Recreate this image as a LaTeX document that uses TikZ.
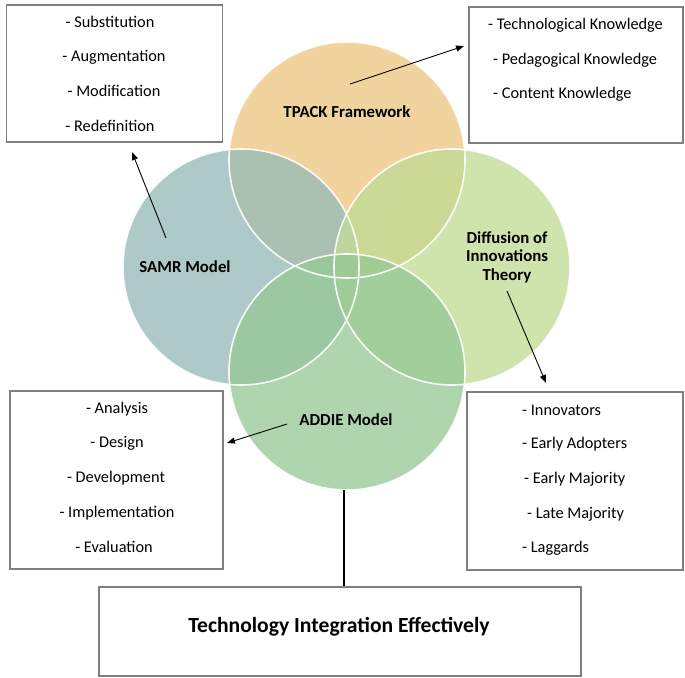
\documentclass[tikz,border=0pt]{standalone}
\usepackage{fontspec}
\setmainfont{Carlito}
\usetikzlibrary{arrows.meta}
\definecolor{ctpack}{RGB}{235,198,128}
\definecolor{csamr}{RGB}{150,186,184}
\definecolor{cdiff}{RGB}{192,219,148}
\definecolor{caddie}{RGB}{150,200,150}
\definecolor{boxgray}{RGB}{128,128,128}
\tikzset{
  venn/.style={circle, minimum size=236pt, inner sep=0pt, fill opacity=0.77},
  vennborder/.style={draw=white, line width=1.6pt, draw opacity=0.9},
  listbox/.style={draw=boxgray, line width=1.3pt},
  item/.style={font=\fontsize{16.3}{19}\selectfont, inner sep=0pt},
  vlabel/.style={font=\fontsize{16.8}{19}\selectfont\bfseries, align=center, inner sep=0pt},
  pointer/.style={-{Triangle[length=8pt,width=6pt]}, line width=0.9pt, black},
}
\begin{document}
\begin{tikzpicture}[x=1pt,y=-1pt]
\useasboundingbox (0,0) rectangle (685,677);
% circles
\node[venn, fill=ctpack] (tpack) at (347,160) {};
\node[venn, fill=csamr] (samr) at (241,267) {};
\node[venn, fill=cdiff] (diff) at (452,267) {};
\node[venn, fill=caddie] (addie) at (347,372) {};
\draw[vennborder] (tpack.center) circle (118pt);
\draw[vennborder] (samr.center) circle (118pt);
\draw[vennborder] (diff.center) circle (118pt);
\draw[vennborder] (addie.center) circle (118pt);
% circle labels
\node[vlabel] (ltpack) at (347,112) {TPACK Framework};
\node[vlabel] (lsamr) at (185,267) {SAMR Model};
\node[vlabel] (ldiff) at (507,257) {Diffusion of\\[-0.5pt]Innovations\\[-0.5pt]Theory};
\node[vlabel] (laddie) at (346,420) {ADDIE Model};
% boxes
\node[listbox, minimum width=216pt, minimum height=137pt, inner sep=0pt] (bsamr) at (114.5,73.5) {};
\node[listbox, minimum width=214pt, minimum height=136pt, inner sep=0pt] (btpack) at (576,75) {};
\node[listbox, minimum width=213pt, minimum height=178pt, inner sep=0pt] (baddie) at (116.5,480) {};
\node[listbox, minimum width=216pt, minimum height=178pt, inner sep=0pt] (bdiff) at (575,481) {};
\node[listbox, minimum width=482pt, minimum height=89pt, inner sep=0pt] (bresult) at (340,631.5) {};
% SAMR items
\node[item] (s1) at (110,22) {- Substitution};
\node[item] (s2) at (114,57) {- Augmentation};
\node[item] (s3) at (114,91) {- Modification};
\node[item] (s4) at (110,126) {- Redefinition};
% TPACK items
\node[item, anchor=west] (t1) at (488,25) {- Technological Knowledge};
\node[item, anchor=west] (t2) at (493,60) {- Pedagogical Knowledge};
\node[item, anchor=west] (t3) at (493,94) {- Content Knowledge};
% ADDIE items
\node[item] (a1) at (117,409) {- Analysis};
\node[item] (a2) at (117,443) {- Design};
\node[item] (a3) at (116,478) {- Development};
\node[item] (a4) at (117,513) {- Implementation};
\node[item] (a5) at (114,547) {- Evaluation};
% Diffusion items
\node[item, anchor=west] (d1) at (522,410) {- Innovators};
\node[item, anchor=west] (d2) at (522,444) {- Early Adopters};
\node[item, anchor=west] (d3) at (524,479) {- Early Majority};
\node[item, anchor=west] (d4) at (527,514) {- Late Majority};
\node[item, anchor=west] (d5) at (522,548) {- Laggards};
% result text
\node[font=\fontsize{21.6}{25}\selectfont\bfseries, inner sep=0pt] (result) at (339,627) {Technology Integration Effectively};
% arrows
\coordinate (ta) at (350,84);
\coordinate (tb) at (464,46);
\coordinate (sa) at (166,238);
\coordinate (sb) at (132,152);
\coordinate (da) at (507,291);
\coordinate (db) at (546,383);
\coordinate (aa) at (287,424);
\coordinate (ab) at (227,443);
\coordinate (va) at (344,490);
\draw[pointer] (ta) -- (tb);
\draw[pointer] (sa) -- (sb);
\draw[pointer] (da) -- (db);
\draw[pointer] (aa) -- (ab);
\draw[line width=1.1pt] (va) -- (va |- bresult.north);
\end{tikzpicture}
\end{document}
